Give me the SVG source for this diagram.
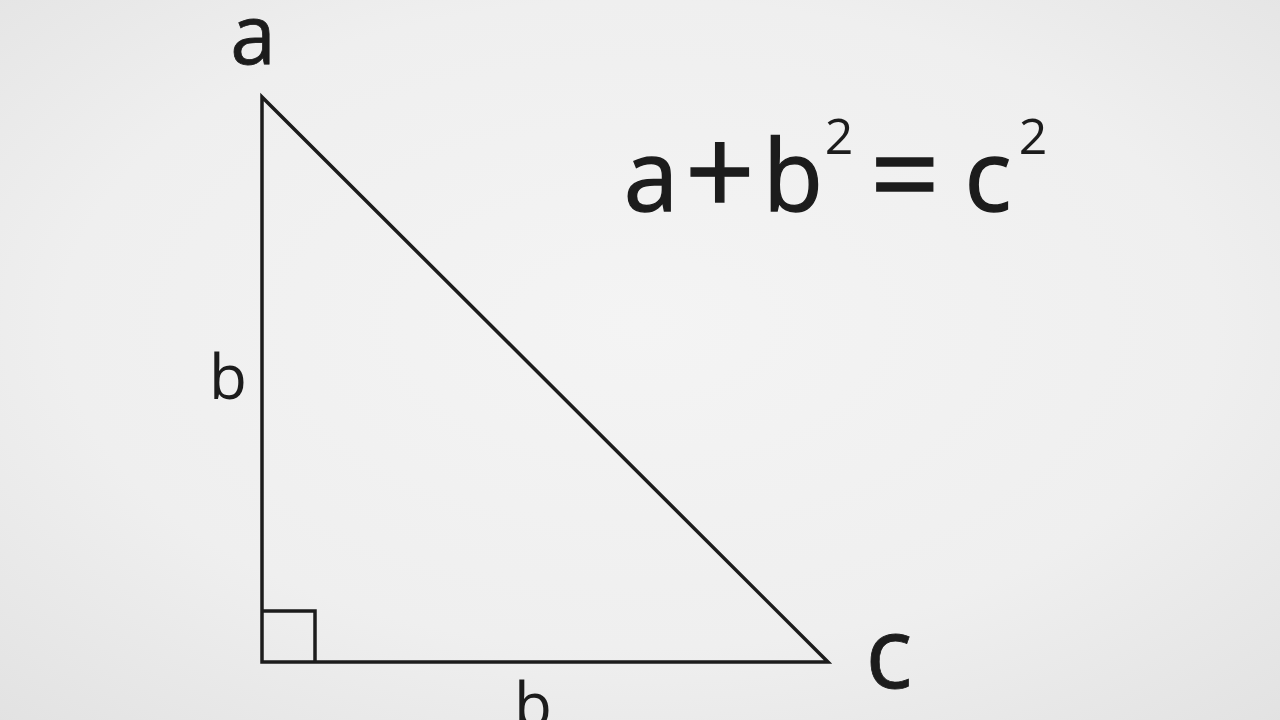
<svg xmlns="http://www.w3.org/2000/svg" width="1280" height="720" viewBox="0 0 1280 720">
<defs>
<radialGradient id="bg" cx="50%" cy="45%" r="75%">
<stop offset="0" stop-color="#f4f4f4"/>
<stop offset="0.6" stop-color="#efefef"/>
<stop offset="1" stop-color="#e2e2e2"/>
</radialGradient>
<style>
.t{font-family:"Open Sans","Noto Sans","DejaVu Sans",sans-serif;fill:#1c1c1c;text-anchor:middle}
.eq{stroke:#1c1c1c;stroke-width:1.4}
.ln{fill:none;stroke:#1c1c1c;stroke-width:3.5;stroke-linejoin:miter}
</style>
</defs>
<rect width="1280" height="720" fill="url(#bg)"/>
<g id="triangle">
<polygon class="ln" points="262,97 262,662 828,662"/>
<polyline class="ln" points="262,611 315,611 315,662"/>
</g>
<g id="labels">
<text class="t" x="253" y="64" font-size="82" style="stroke:#1c1c1c;stroke-width:0.8">a</text>
<text class="t" x="228" y="399" font-size="62">b</text>
<text class="t" x="533" y="727" font-size="62">b</text>
<text class="t" x="889" y="688" font-size="98" style="stroke:#1c1c1c;stroke-width:0.8">c</text>
</g>
<g id="equation">
<text class="t eq" x="651" y="211" font-size="98">a</text>
<text class="t eq" x="720" y="216" font-size="122">+</text>
<text class="t eq" x="793" y="211" font-size="98">b</text>
<text class="t" x="839" y="154" font-size="50">2</text>
<text class="t eq" x="905" y="218" font-size="122">=</text>
<text class="t eq" x="988" y="211" font-size="98">c</text>
<text class="t" x="1033" y="154" font-size="50">2</text>
</g>
</svg>
